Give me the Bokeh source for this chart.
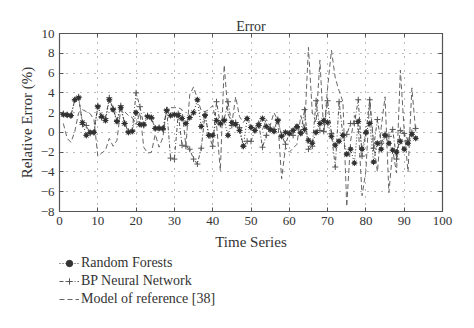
from bokeh.plotting import figure
from bokeh.models import Range1d, FixedTicker, LinearAxis, Legend, LegendItem
from bokeh.layouts import column
from bokeh.embed import file_html
from bokeh.resources import INLINE

x_index = list(range(1, 94))

random_forests = [1.8, 1.75, 1.7, 3.3, 3.5, 1.0, -0.3, 0.0, 0.0, 2.6,
                  1.6, 1.2, 3.3, 2.3, 1.1, 2.5, 0.9, 0.0, 0.1, 2.0,
                  0.8, 0.8, 1.6, 1.5, 0.4, 0.4, 0.4, 2.2, 1.7, 1.8,
                  1.7, 1.4, 0.9, 1.5, 2.0, 3.3, 0.6, 1.7, -0.3, -0.3,
                  1.2, 0.9, 1.2, -0.3, 1.0, 0.8, 0.2, -1.4, 1.4, 0.5,
                  0.2, 0.7, 1.4, 0.6, 0.3, 0.1, 1.2, -0.4, 0.0, -0.1,
                  0.2, 0.6, -0.1, 0.3, -0.8, -1.1, 0.0, 0.9, 1.2, 1.0,
                  -0.4, -1.3, -0.9, -0.3, -2.2, -1.7, -3.1, 1.1, -1.7, 0.0,
                  0.9, -3.0, -1.1, -1.7, -0.3, -1.1, -1.8, -2.0, -0.9, -1.7,
                  -1.1, -0.2, -0.6]

bp_neural = [1.9, 1.8, 1.7, 3.3, 3.6, 0.8, 0.7, -0.1, 0.0, 2.7,
             1.5, 1.4, 3.5, 2.4, 1.2, 2.7, 0.9, 0.1, 0.2, 4.0,
             2.6, 0.7, 1.7, 1.4, 0.4, 0.5, 0.3, 2.3, -2.6, -2.7,
             1.9, -1.3, -1.4, -1.7, -2.7, -3.2, -1.6, 1.8, -0.3, -1.4,
             3.1, 0.8, 1.3, 3.1, 0.7, 1.0, 0.5, -1.4, -0.9, -0.9,
             0.2, 0.9, -1.5, -0.3, 0.4, 0.3, 1.3, -0.3, -1.2, -0.1,
             -0.3, 0.5, 0.0, 2.3, -1.7, -1.4, 3.2, 0.2, 0.1, 3.2,
             -0.1, -3.5, 3.1, -0.3, -0.2, 0.9, 0.9, 3.3, -2.4, -0.1,
             3.3, -1.6, 1.3, -1.1, -0.2, -0.4, 0.3, -2.7, 0.2, -0.1,
             -0.8, 0.0, 0.4]

model_ref38 = [0.9, -0.6, -1.0, 0.1, 2.0, 2.3, 2.1, 1.9, 1.3, -2.4,
               -2.1, -1.8, -0.6, -1.4, -0.8, 2.4, 2.1, 1.7, 1.5, 0.8,
               2.0, -1.5, -2.1, -2.0, -0.2, -1.5, -0.5, 2.5, 2.5, 2.5,
               2.5, 2.3, -1.4, 3.8, 4.6, 3.4, 2.2, 2.1, 2.3, 2.7,
               0.8, -3.9, 6.8, 1.9, 0.9, 3.6, 1.6, 1.0, 1.6, 0.7,
               0.4, 1.2, 0.3, 1.3, 0.7, 2.0, 1.2, -4.7, -1.5, -2.0,
               -1.6, -1.2, 1.7, 0.3, 8.6, 2.0, 1.0, 7.3, -0.1, 4.5,
               8.3, 5.5, 4.2, 3.1, -7.5, -0.9, 1.7, 0.7, -6.4, -3.9,
               3.4, -1.0, -4.0, 0.5, 3.6, -6.1, -1.8, -4.1, 6.3, 0.2,
               -4.0, 4.5, 0.1]

x_ticks = [0, 10, 20, 30, 40, 50, 60, 70, 80, 90, 100]
y_ticks = [-8, -6, -4, -2, 0, 2, 4, 6, 8, 10]
legend_labels = ["Random Forests", "BP Neural Network", "Model of reference [38]"]

FONT = "Liberation Serif"
TXT = "#333333"
LINE = "#555555"

C_RF = "#333333"
C_BP = "#555555"
C_RE = "#666666"

p = figure(frame_width=383, frame_height=178, output_backend="svg", toolbar_location=None,
           x_range=Range1d(0, 100), y_range=Range1d(-8, 10),
           min_border_left=59, min_border_right=32, min_border_top=33, min_border_bottom=44,
           title="Error")

p.title.align = "center"
p.title.text_font = FONT
p.title.text_font_size = "14px"
p.title.text_font_style = "normal"
p.title.text_color = TXT
p.title.offset = 0
p.title.standoff = 0

p.outline_line_color = LINE
p.outline_line_width = 1.2
p.background_fill_color = "white"

for ax in (p.xaxis[0], p.yaxis[0]):
    ax.major_label_text_font = FONT
    ax.major_label_text_font_size = "13px"
    ax.major_label_text_color = TXT
    ax.axis_label_text_font = FONT
    ax.axis_label_text_font_size = "15px"
    ax.axis_label_text_font_style = "normal"
    ax.axis_label_text_color = TXT
    ax.axis_line_color = LINE
    ax.major_tick_line_color = LINE
    ax.major_tick_in = 4
    ax.major_tick_out = 0
    ax.minor_tick_line_color = None
    ax.major_label_standoff = 5

p.xaxis[0].ticker = FixedTicker(ticks=x_ticks)
p.yaxis[0].ticker = FixedTicker(ticks=y_ticks)
p.xaxis[0].axis_label = "Time Series"
p.yaxis[0].axis_label = "Relative Error (%)"
p.xaxis[0].axis_label_standoff = 6
p.yaxis[0].axis_label_standoff = 3

top_ax = LinearAxis(ticker=FixedTicker(ticks=x_ticks), major_label_overrides={t: "" for t in x_ticks},
                    major_tick_in=4, major_tick_out=0, minor_tick_line_color=None,
                    axis_line_color=LINE, major_tick_line_color=LINE, major_label_standoff=0)
right_ax = LinearAxis(ticker=FixedTicker(ticks=y_ticks), major_label_overrides={t: "" for t in y_ticks},
                      major_tick_in=4, major_tick_out=0, minor_tick_line_color=None,
                      axis_line_color=LINE, major_tick_line_color=LINE, major_label_standoff=0)
p.add_layout(top_ax, "above")
p.add_layout(right_ax, "right")

p.xgrid.ticker = FixedTicker(ticks=x_ticks)
p.ygrid.ticker = FixedTicker(ticks=y_ticks)
for g in (p.xgrid, p.ygrid):
    g.grid_line_color = "#777777"
    g.grid_line_dash = "1 6"
    g.grid_line_width = 1

p.line(x_index, model_ref38, line_color=C_RE, line_dash="5 3", line_width=1)
p.line(x_index, bp_neural, line_color=C_BP, line_dash="4 2 1 2", line_width=1)
p.scatter(x_index, bp_neural, marker="cross", size=6, line_color=C_BP, line_width=1)
p.line(x_index, random_forests, line_color=C_RF, line_dash="1 2", line_width=1)
p.scatter(x_index, random_forests, marker="circle", size=3.5, fill_color=C_RF, line_color=C_RF)
p.scatter(x_index, random_forests, marker="asterisk", size=6, line_color=C_RF, line_width=1)

# Legend panel below the chart: same series, drawn out of view, only their legend shows
lg = figure(frame_width=383, frame_height=73, output_backend="svg", toolbar_location=None,
            x_range=Range1d(1000, 1001), y_range=Range1d(1000, 1001),
            x_axis_location=None, y_axis_location=None,
            min_border_left=59, min_border_right=32, min_border_top=0, min_border_bottom=0)
lg.grid.visible = False
lg.outline_line_color = None

e_rf_l = lg.line(x_index, random_forests, line_color=C_RF, line_dash="1 2", line_width=1)
e_rf_m = lg.scatter(x_index, random_forests, marker="circle", size=3.5, fill_color=C_RF, line_color=C_RF)
e_bp_l = lg.line(x_index, bp_neural, line_color=C_BP, line_dash="4 2 1 2", line_width=1)
e_bp_m = lg.scatter(x_index, bp_neural, marker="cross", size=6, line_color=C_BP, line_width=1)
e_re_l = lg.line(x_index, model_ref38, line_color=C_RE, line_dash="5 3", line_width=1)

legend = Legend(items=[
    LegendItem(label=legend_labels[0], renderers=[e_rf_l, e_rf_m]),
    LegendItem(label=legend_labels[1], renderers=[e_bp_l, e_bp_m]),
    LegendItem(label=legend_labels[2], renderers=[e_re_l]),
], location=(0, 21))
legend.label_text_font = FONT
legend.label_text_font_size = "14px"
legend.label_text_color = TXT
legend.border_line_color = None
legend.background_fill_alpha = 0
legend.glyph_width = 20
legend.glyph_height = 16
legend.label_height = 16
legend.label_standoff = 2
legend.spacing = 2
legend.padding = 0
legend.margin = 0
lg.add_layout(legend, "center")

layout = column(p, lg, spacing=0)
open("out.html", "w").write(file_html(layout, INLINE))
